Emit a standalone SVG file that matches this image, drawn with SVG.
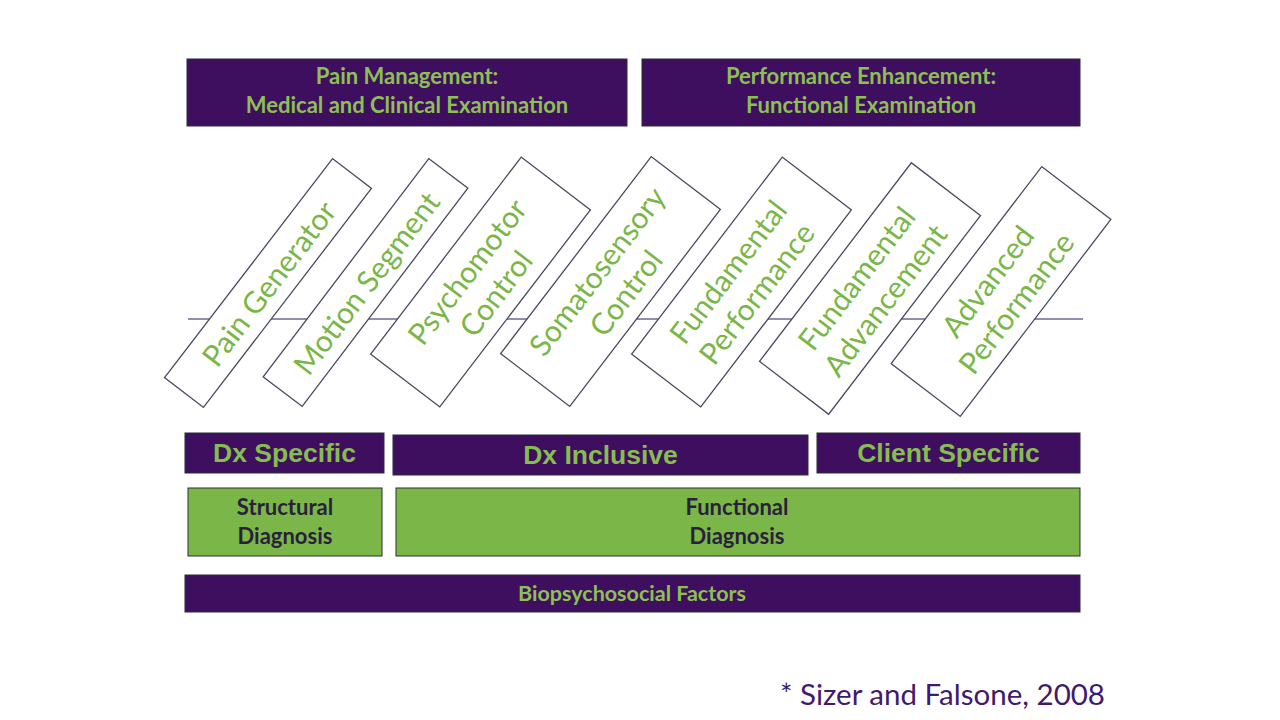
<svg xmlns="http://www.w3.org/2000/svg" width="1280" height="720" viewBox="0 0 1280 720">
<style>
.bar{fill:#3f0f5f;stroke:#2a2a3a;stroke-width:1}
.gbox{fill:#7ab648;stroke:#2f2f2f;stroke-width:1}
.rb{fill:#ffffff;stroke:#4a4a5e;stroke-width:1.3}
.rt{font-family:Lato,"Open Sans",sans-serif;font-size:30px;fill:#7ab648;text-anchor:middle;dominant-baseline:central}
.ht{font-family:Lato,"Open Sans",sans-serif;font-size:22px;font-weight:bold;fill:#8cc152;text-anchor:middle}
.dx{font-family:"Liberation Sans",Arial,sans-serif;font-size:26.5px;font-weight:bold;fill:#86bd4f;text-anchor:middle}
.gt{font-family:Lato,"Open Sans",sans-serif;font-size:22px;font-weight:bold;fill:#2a1f3d;text-anchor:middle}
.cite{font-family:Lato,"Open Sans",sans-serif;font-size:29.5px;fill:#3f1a6e}
</style>
<rect width="1280" height="720" fill="#ffffff"/>
<g id="connectors">
<line x1="188" y1="319" x2="1083" y2="319" stroke="#2a1a5e" stroke-width="1"/>
</g>
<g id="header-pain">
<rect class="bar" x="187" y="59" width="440" height="67"/>
<text class="ht" x="407" y="84">Pain Management:</text>
<text class="ht" x="407" y="113">Medical and Clinical Examination</text>
</g>
<g id="header-performance">
<rect class="bar" x="642" y="59" width="438" height="67"/>
<text class="ht" x="861" y="84">Performance Enhancement:</text>
<text class="ht" x="861" y="113">Functional Examination</text>
</g>
<g id="pain-generator" transform="translate(268,283) rotate(-52.5)">
<rect class="rb" x="-138" y="-24.5" width="276" height="49"/>
<text class="rt" x="0" y="0">Pain Generator</text>
</g>
<g id="motion-segment" transform="translate(365.5,282.5) rotate(-52.8)">
<rect class="rb" x="-137" y="-24.5" width="274" height="49"/>
<text class="rt" x="0" y="0">Motion Segment</text>
</g>
<g id="psychomotor-control" transform="translate(480.5,282) rotate(-52.6)">
<rect class="rb" x="-124" y="-43.5" width="248" height="87"/>
<text class="rt" x="0" y="-18">Psychomotor</text>
<text class="rt" x="0" y="18">Control</text>
</g>
<g id="somatosensory-control" transform="translate(610.5,281.5) rotate(-52.6)">
<rect class="rb" x="-124" y="-43.5" width="248" height="87"/>
<text class="rt" x="0" y="-18">Somatosensory</text>
<text class="rt" x="0" y="18">Control</text>
</g>
<g id="fundamental-performance" transform="translate(741.5,282) rotate(-52.6)">
<rect class="rb" x="-124" y="-43.5" width="248" height="87"/>
<text class="rt" x="0" y="-18">Fundamental</text>
<text class="rt" x="0" y="18">Performance</text>
</g>
<g id="fundamental-advancement" transform="translate(870,288.5) rotate(-52.6)">
<rect class="rb" x="-125" y="-43.5" width="250" height="87"/>
<text class="rt" x="0" y="-18">Fundamental</text>
<text class="rt" x="0" y="18">Advancement</text>
</g>
<g id="advanced-performance" transform="translate(1001,291.5) rotate(-52.6)">
<rect class="rb" x="-124" y="-43.5" width="248" height="87"/>
<text class="rt" x="0" y="-18">Advanced</text>
<text class="rt" x="0" y="18">Performance</text>
</g>
<g id="dx-specific">
<rect class="bar" x="185" y="433" width="199" height="40"/>
<text class="dx" x="284.5" y="462">Dx Specific</text>
</g>
<g id="dx-inclusive">
<rect class="bar" x="393" y="435" width="415" height="40"/>
<text class="dx" x="600.5" y="464">Dx Inclusive</text>
</g>
<g id="client-specific">
<rect class="bar" x="817" y="433" width="263" height="40"/>
<text class="dx" x="948.5" y="462">Client Specific</text>
</g>
<g id="structural-diagnosis">
<rect class="gbox" x="188" y="488" width="194" height="68"/>
<text class="gt" x="285" y="515">Structural</text>
<text class="gt" x="285" y="544">Diagnosis</text>
</g>
<g id="functional-diagnosis">
<rect class="gbox" x="396" y="488" width="684" height="68"/>
<text class="gt" x="737" y="515">Functional</text>
<text class="gt" x="737" y="544">Diagnosis</text>
</g>
<g id="biopsychosocial">
<rect class="bar" x="185" y="575" width="895" height="37"/>
<text class="ht" x="632" y="601" style="font-size:21.5px">Biopsychosocial Factors</text>
</g>
<g id="citation">
<text class="cite" x="780" y="705">* Sizer and Falsone, 2008</text>
</g>
</svg>
